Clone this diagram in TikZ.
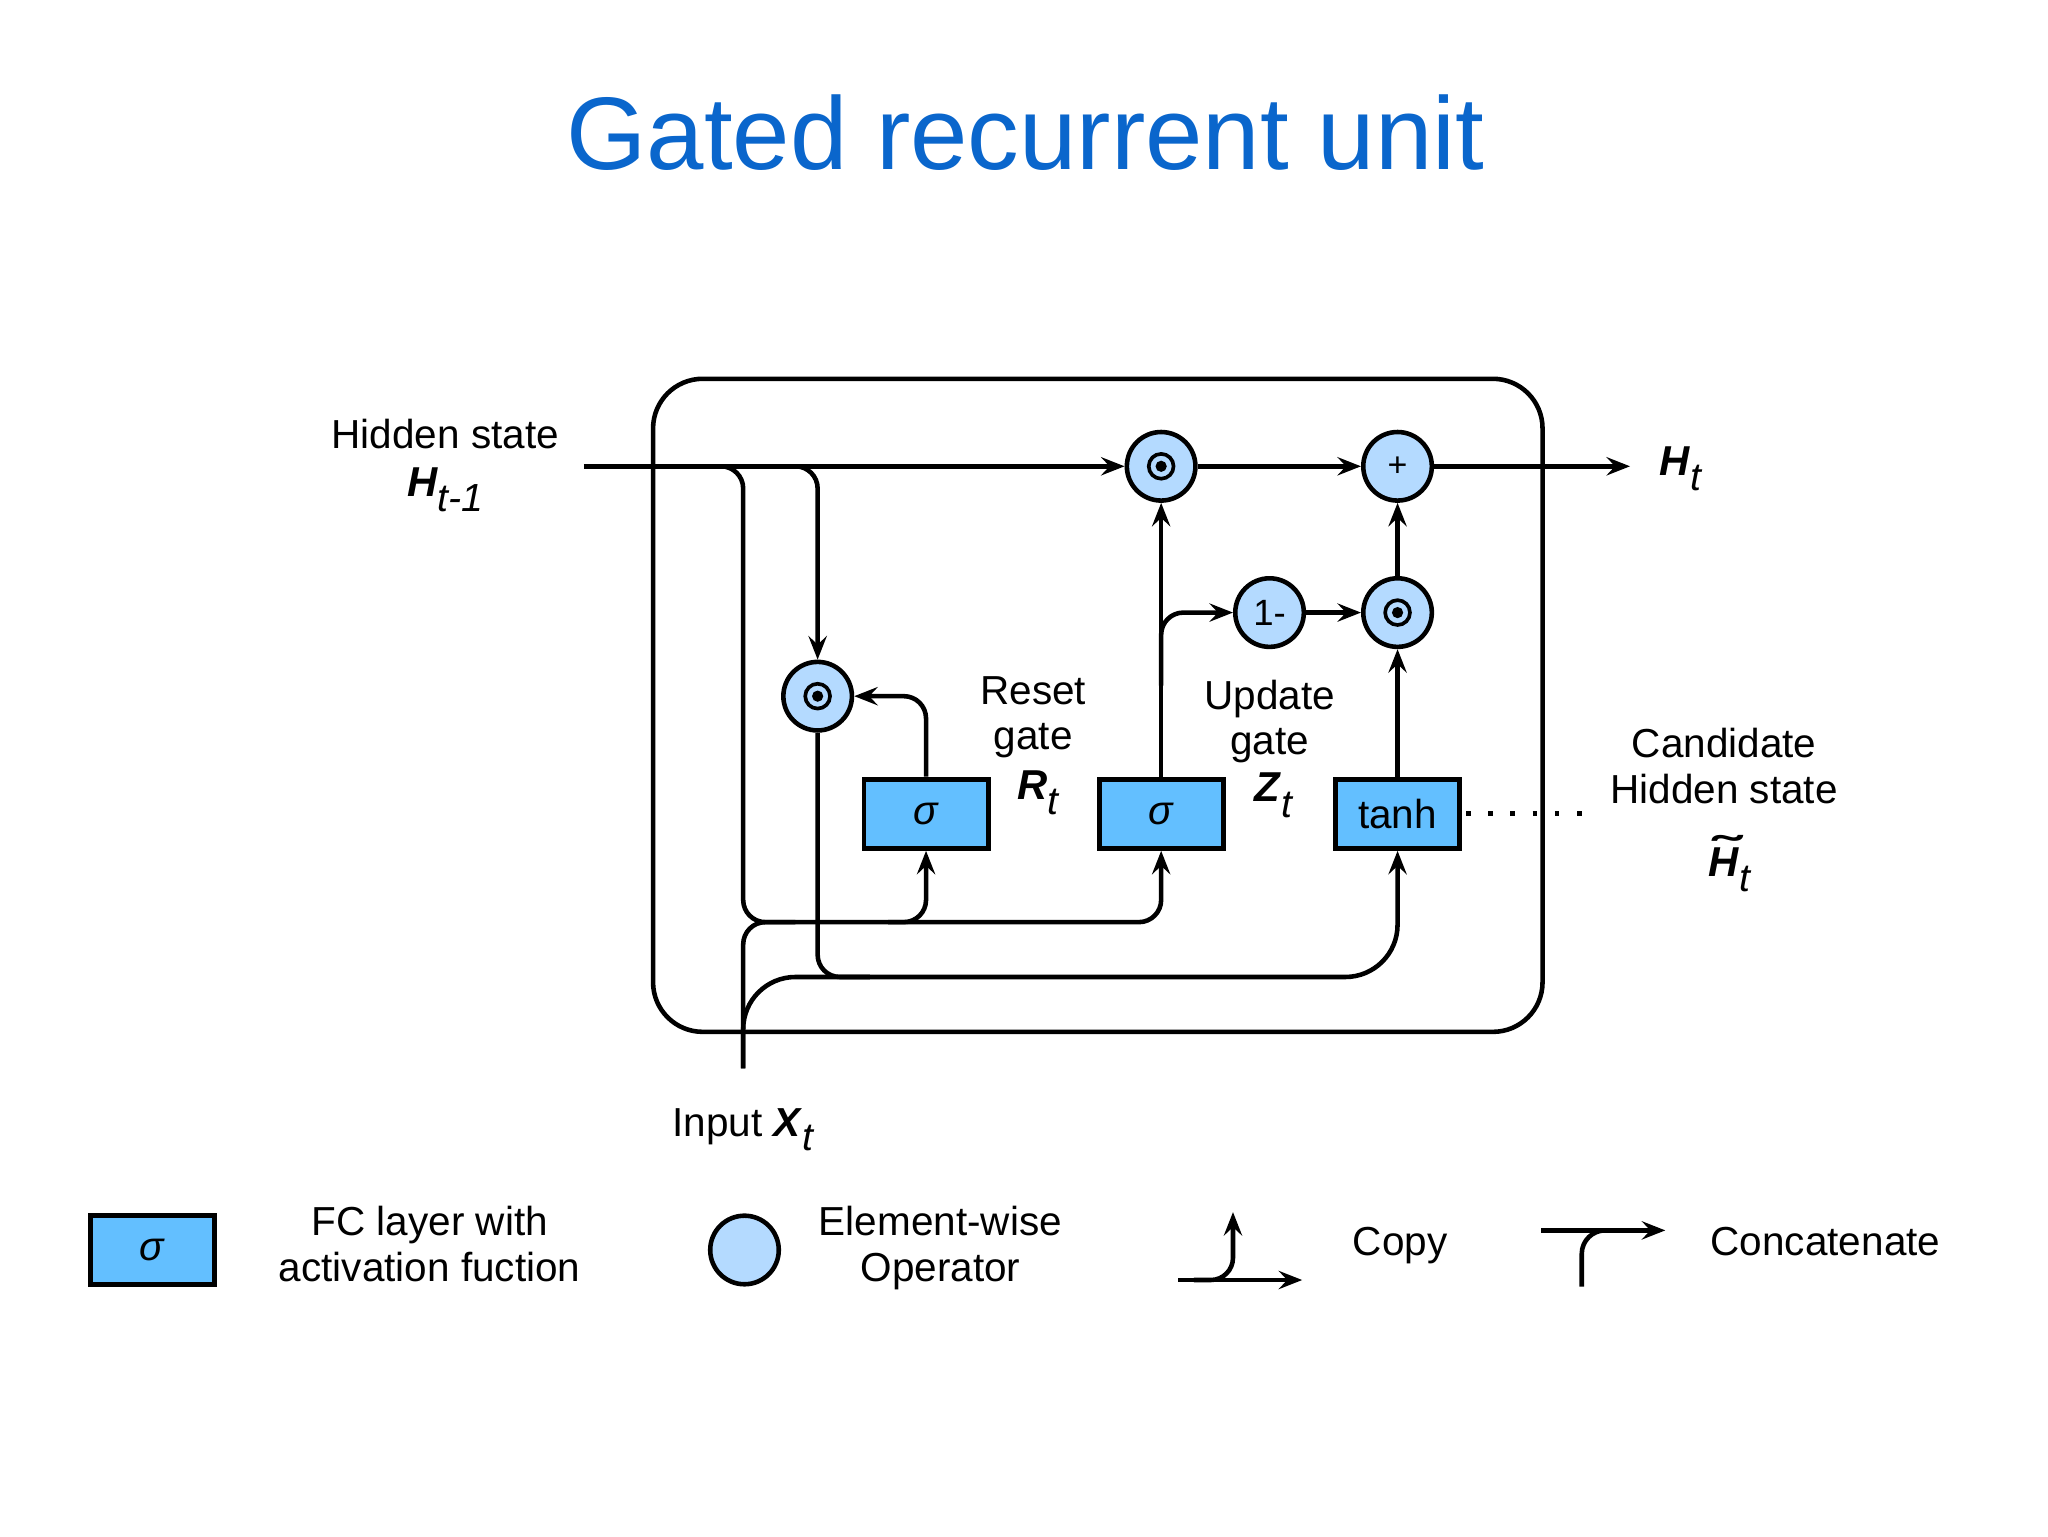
\documentclass[tikz,border=0pt]{standalone}
\usepackage{fontspec}
\setmainfont{Liberation Sans}
\usepackage{graphicx}
\usetikzlibrary{arrows.meta}
\definecolor{fcblue}{RGB}{99,191,255}
\definecolor{opblue}{RGB}{180,218,255}
\definecolor{titleblue}{RGB}{10,102,204}
\newcommand\bvar[2]{\textbf{\textit{#1}}\raisebox{-0.36em}{\fontsize{30}{32}\selectfont\textit{#2}}}
\newcommand\tildeH{\leavevmode\rlap{\hspace{0.1em}\raisebox{0.27em}{\scalebox{2.0}[1.0]{\textbf{\char"02DC}}}}\textbf{\textit{H}}}
\begin{document}
\begin{tikzpicture}[x=1pt,y=-1pt,
  line width=3.5pt,
  arr/.style={-{Stealth[length=18pt,width=14pt,inset=6.5pt]}},
  fcbox/.style={draw,fill=fcblue,minimum width=95pt,minimum height=53pt,inner sep=0pt,font=\fontsize{31}{36}\selectfont,line width=3.8pt},
  opnode/.style={draw,circle,fill=opblue,minimum size=52.5pt,inner sep=0pt,line width=3.5pt},
  lbl/.style={font=\fontsize{31}{36}\selectfont,inner sep=0pt,anchor=base},
  lblw/.style={font=\fontsize{32}{36}\selectfont,inner sep=0pt,anchor=base west},
]
\useasboundingbox (0,0) rectangle (1568,1176);
\fill[white] (0,0) rectangle (1568,1176);

% title
\node[font=\fontsize{79}{90}\selectfont,text=titleblue,anchor=base,inner sep=0pt] (title) at (785,130) {Gated recurrent unit};

% outer box
\draw[rounded corners=38pt] (500,290) rectangle (1181,790);

% operator nodes
\node[opnode] (mulH) at (889,357) {};
\node[opnode,font=\fontsize{26}{28}\selectfont] (plus) at (1070,357) {+};
\node[opnode,font=\fontsize{28}{30}\selectfont] (one) at (972,469) {1-};
\node[opnode] (mulZ) at (1070,469) {};
\node[opnode] (mulR) at (626,533) {};
\foreach \n in {mulH,mulZ,mulR}{
  \draw[line width=2.8pt] (\n) circle (9.5pt);
  \fill (\n) circle (4.3pt);
}

% FC boxes
\node[fcbox] (sigR) at (709,623) {\textit{σ}};
\node[fcbox] (sigZ) at (889,623) {\textit{σ}};
\node[fcbox] (tanh) at (1070,623) {tanh};

% free ends
\coordinate (hin) at (447,357);
\coordinate (hout) at (1248,357);
\coordinate (xin) at (569,818);
\coordinate (hbr1) at (540,357);
\coordinate (hbr2) at (596,357);
\coordinate (j1) at (569,706);
\coordinate (j2) at (569,748);
\coordinate (j3) at (680,706);
\coordinate (zbr) at (889,525);
\coordinate (dotend) at (1214,623);

% hidden state path
\draw[arr] (hin) -- (mulH.west);
\draw[arr] (mulH.east) -- (plus.west);
\draw[arr] (plus.east) -- (hout);
\draw[arr,rounded corners=17pt] (hbr2) -- (hbr2 -| mulR.north) -- (mulR.north);
% concat hidden + input into sigma gates
\draw[arr,rounded corners=17pt] (hbr1) -- (hbr1 -| j1) -- (j1) -- (j1 -| sigZ.south) -- (sigZ.south);
\draw[rounded corners=17pt] (xin) -- (j1) -- ++(40,0);
\draw[arr,rounded corners=17pt] (j3) -- (j3 -| sigR.south) -- (sigR.south);
% reset gate output
\draw[arr,rounded corners=17pt] (sigR.north) -- (sigR.north |- mulR.east) -- (mulR.east);
% candidate input
\draw[rounded corners=17pt] (mulR.south) -- (mulR.south |- j2) -- ++(40,0);
\draw[arr,rounded corners=40pt] (xin) -- (j2) -- (j2 -| tanh.south) -- (tanh.south);
% update gate
\draw[arr] (sigZ.north) -- (mulH.south);
\draw[arr,rounded corners=17pt] (zbr) -- (zbr |- one.west) -- (one.west);
\draw[arr] (one.east) -- (mulZ.west);
\draw[arr] (tanh.north) -- (mulZ.south);
\draw[arr] (mulZ.north) -- (plus.south);
\draw[dash pattern=on 3.5pt off 13.5pt] ([xshift=3pt]tanh.east) -- (dotend);

% labels
\node[lbl] (hs1) at (341,343) {Hidden state};
\node[lbl,font=\fontsize{32}{36}\selectfont] (hs2) at (341,380) {\bvar{H}{t-1}};
\node[lblw] (htl) at (1269,364) {\bvar{H}{t}};
\node[lbl] (rs1) at (791,539) {Reset};
\node[lbl] (rs2) at (791,574) {gate};
\node[lblw] (rs3) at (777,612) {\bvar{R}{t}};
\node[lbl] (up1) at (972,543) {Update};
\node[lbl] (up2) at (972,578) {gate};
\node[lblw] (up3) at (959,614) {\bvar{Z}{t}};
\node[lbl] (cd1) at (1320,580) {Candidate};
\node[lbl] (cd2) at (1320,615) {Hidden state};
\node[lblw] (cd3) at (1306,671) {\tildeH\raisebox{-0.36em}{\fontsize{30}{32}\selectfont\textit{t}}};
\node[lbl,anchor=base west] (inp) at (513,870) {Input \bvar{X}{t}};

% legend
\node[fcbox] (legbox) at (117,957) {\textit{σ}};
\node[lbl] (lg1) at (329,946) {FC layer with};
\node[lbl] (lg2) at (329,981) {activation fuction};
\node[opnode] (legop) at (570,957) {};
\node[lbl] (lg3) at (720,946) {Element-wise};
\node[lbl] (lg4) at (720,981) {Operator};
\coordinate (cpa) at (902,980);
\coordinate (cpb) at (997,980);
\coordinate (cpc) at (914,980);
\coordinate (cpd) at (944,928);
\draw[arr] (cpa) -- (cpb);
\draw[arr,rounded corners=17pt] (cpc) -- (cpc -| cpd) -- (cpd);
\node[lbl,anchor=base west] (lg5) at (1034,961) {Copy};
\coordinate (cta) at (1180,942);
\coordinate (ctb) at (1275,942);
\coordinate (ctc) at (1211,985);
\draw[arr] (cta) -- (ctb);
\draw[rounded corners=18pt] (ctc) -- (ctc |- cta) -- ++(35,0);
\node[lbl,anchor=base west] (lg6) at (1308,961) {Concatenate};
\end{tikzpicture}
\end{document}
